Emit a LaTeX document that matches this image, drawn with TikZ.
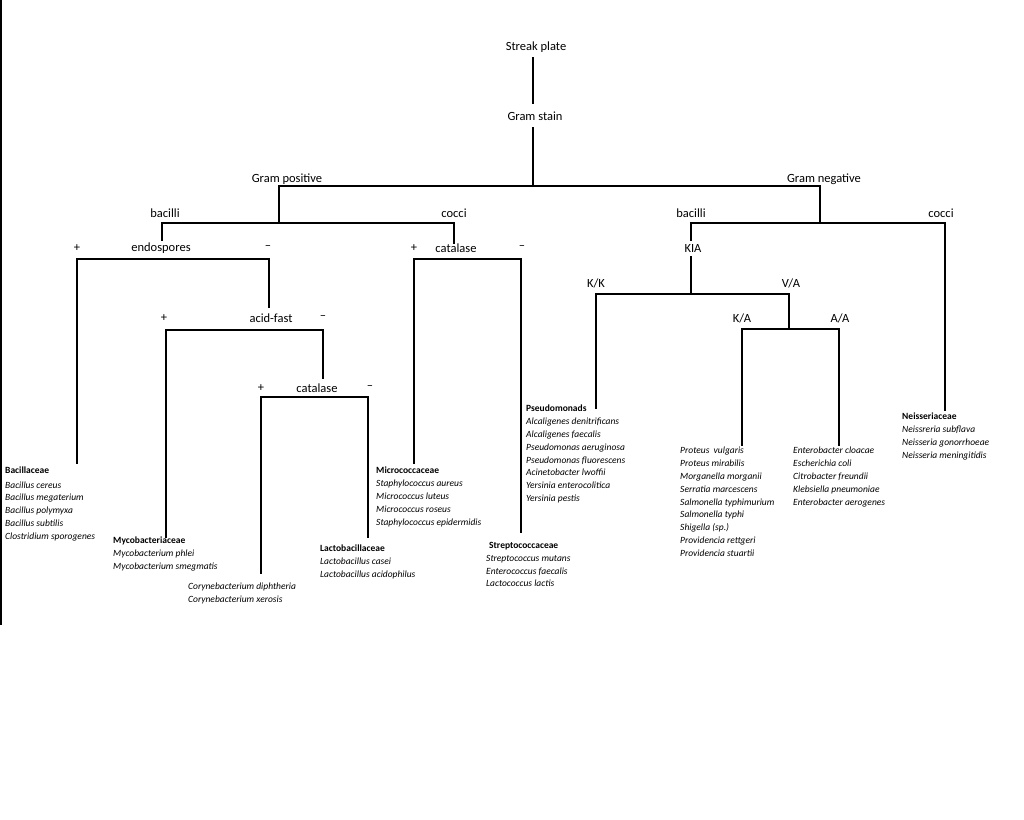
\documentclass[tikz,border=0pt]{standalone}
\usepackage{fontspec}
\setmainfont{Carlito}
\begin{document}
\begin{tikzpicture}[x=1pt,y=-1pt,
 lbl/.style={inner sep=0pt,font=\fontsize{12.5}{14}\selectfont},
 lst/.style={inner sep=0pt,anchor=north west,align=left,font=\fontsize{9.5}{12.8}\selectfont\itshape},
 br/.style={line width=2pt,line cap=rect}]
\useasboundingbox (0,0) rectangle (1024,819);
\fill[white] (0,0) rectangle (1024,819);
\draw[line width=1.2pt] (1,0) -- (1,625);
% labels
\node[lbl] (sp) at (536,47) {Streak plate};
\node[lbl] (gs) at (535,116) {Gram stain};
\node[lbl] (gp) at (287,179) {Gram positive};
\node[lbl] (gn) at (824,179) {Gram negative};
\node[lbl] at (165,213) {bacilli};
\node[lbl] at (454,213) {cocci};
\node[lbl] at (691,213) {bacilli};
\node[lbl] at (941,213) {cocci};
\node[lbl] at (77,248) {+};
\node[lbl] (endo) at (161,248) {endospores};
\node[lbl] at (268,248) {--};
\node[lbl] at (164,318) {+};
\node[lbl] (af) at (271,318) {acid-fast};
\node[lbl] at (323,318) {--};
\node[lbl] at (261,388) {+};
\node[lbl] (cat2) at (317,388) {catalase};
\node[lbl] at (370,388) {--};
\node[lbl] at (414,248) {+};
\node[lbl] (cat1) at (456,248) {catalase};
\node[lbl] at (522,248) {--};
\node[lbl] (kia) at (693,248) {KIA};
\node[lbl] at (596,283) {K/K};
\node[lbl] at (791,283) {V/A};
\node[lbl] at (742,318) {K/A};
\node[lbl] at (840,318) {A/A};
% lines
\draw[br] (533,58) -- (533,103);
\draw[br] (533,128) -- (533,186);
\draw[br] (279,223) -- (279,186) -- (820,186) -- (820,223);
\draw[br] (162,240) -- (162,223) -- (454,223) -- (454,243);
\draw[br] (77,463) -- (77,259) -- (269,259) -- (269,307);
\draw[br] (166,537) -- (166,330) -- (323,330) -- (323,378);
\draw[br] (261,573) -- (261,397) -- (368,397) -- (368,537);
\draw[br] (414,463) -- (414,259) -- (521,259) -- (521,532);
\draw[br] (691,240) -- (691,223) -- (945,223) -- (945,410);
\draw[br] (691,257) -- (691,294);
\draw[br] (596,408) -- (596,294) -- (789,294) -- (789,329);
\draw[br] (742,445) -- (742,329) -- (839,329) -- (839,445);
% lists
\node[lst] (bac) at (5,467) {\textbf{\upshape Bacillaceae}\\[1.5pt]Bacillus cereus\\Bacillus megaterium\\Bacillus polymyxa\\Bacillus subtilis\\Clostridium sporogenes};
\node[lst] (myc) at (113,537) {\textbf{\upshape Mycobacteriaceae}\\Mycobacterium phlei\\Mycobacterium smegmatis};
\node[lst] (cor) at (188,583) {Corynebacterium diphtheria\\Corynebacterium xerosis};
\node[lst] (lac) at (320,545) {\textbf{\upshape Lactobacillaceae}\\Lactobacillus casei\\Lactobacillus acidophilus};
\node[lst] (mic) at (376,467) {\textbf{\upshape Micrococcaceae}\\Staphylococcus aureus\\Micrococcus luteus\\Micrococcus roseus\\Staphylococcus epidermidis};
\node[lst] (str) at (486,542) {\hspace*{3pt}\textbf{\upshape Streptococcaceae}\\Streptococcus mutans\\Enterococcus faecalis\\Lactococcus lactis};
\node[lst] (pse) at (526,405) {\textbf{\upshape Pseudomonads}\\Alcaligenes denitrificans\\Alcaligenes faecalis\\Pseudomonas aeruginosa\\Pseudomonas fluorescens\\Acinetobacter lwoffii\\Yersinia enterocolitica\\Yersinia pestis};
\node[lst] (ka) at (680,447) {Proteus\ \ vulgaris\\Proteus mirabilis\\Morganella morganii\\Serratia marcescens\\Salmonella typhimurium\\Salmonella typhi\\Shigella (sp.)\\Providencia rettgeri\\Providencia stuartii};
\node[lst] (aa) at (793,447) {Enterobacter cloacae\\Escherichia coli\\Citrobacter freundii\\Klebsiella pneumoniae\\Enterobacter aerogenes};
\node[lst] (nei) at (902,413) {\textbf{\upshape Neisseriaceae}\\Neissreria subflava\\Neisseria gonorrhoeae\\Neisseria meningitidis};
\end{tikzpicture}
\end{document}
